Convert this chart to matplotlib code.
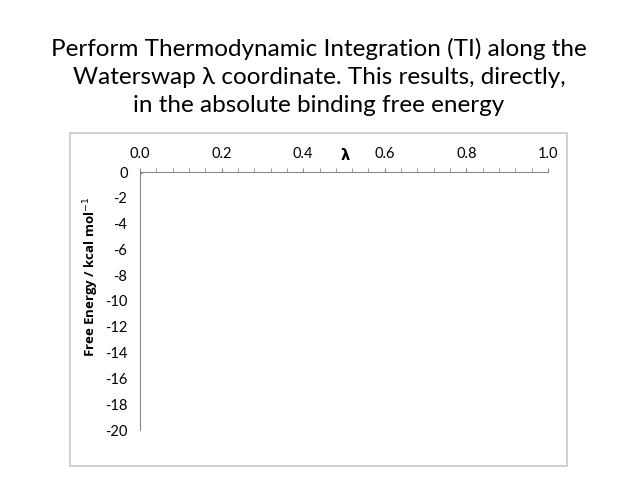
import matplotlib.pyplot as plt
from matplotlib.patches import Rectangle

# data (only the first point is plotted on the slide)
lam = [0.0]
energy = [0.0]

x_labels = ["0.0", "0.2", "0.4", "0.6", "0.8", "1.0"]
x_major = [0.0, 0.2, 0.4, 0.6, 0.8, 1.0]
y_major = [0, -2, -4, -6, -8, -10, -12, -14, -16, -18, -20]

title = ("Perform Thermodynamic Integration (TI) along the\n"
         "Waterswap \u03bb coordinate. This results, directly,\n"
         "in the absolute binding free energy")

W, H = 638, 479
fig = plt.figure(figsize=(W / 100, H / 100), dpi=100)

# title
fig.text(0.5, 1 - 77 / H, title, ha="center", va="center", fontsize=17.5,
         family="Lato", linespacing=1.42)

# chart area border
fig.add_artist(Rectangle((70 / W, 1 - 466 / H), (567 - 70) / W, (466 - 133) / H,
                         transform=fig.transFigure, fill=False,
                         edgecolor="#c8c8c8", linewidth=1.2))

ax = fig.add_axes([140 / W, 1 - 430 / H, (548 - 140) / W, (430 - 172) / H])
ax.plot(lam, energy, marker="o", markersize=2, color="#4f81bd", linestyle="none")

ax.set_xlim(0, 1)
ax.set_ylim(-20, 0)
ax.xaxis.tick_top()
ax.set_xticks(x_major)
ax.set_xticklabels(x_labels)
ax.set_xticks([i * 0.04 for i in range(26)], minor=True)
ax.tick_params(axis="x", which="both", direction="out", length=3, color="#888888",
               labelsize=10.5, pad=5)
ax.set_yticks(y_major)
ax.set_yticklabels([str(v) for v in y_major])
ax.tick_params(axis="y", length=0, labelsize=10.5, pad=9)

for s in ["right", "bottom"]:
    ax.spines[s].set_visible(False)
for s in ["left", "top"]:
    ax.spines[s].set_color("#888888")
    ax.spines[s].set_linewidth(0.8)

for lab in ax.get_xticklabels() + ax.get_yticklabels():
    lab.set_family("Lato")

fig.text(345 / W, 1 - 155 / H, "\u03bb", ha="center", va="center",
         fontsize=10.5, fontweight="bold", family="DejaVu Sans")
fig.text(91 / W, 1 - 277 / H, "Free Energy / kcal mol$^{-1}$", rotation=90,
         ha="center", va="center", fontsize=9.5, fontweight="bold", family="Open Sans")

fig.savefig("out.png", dpi=100)
